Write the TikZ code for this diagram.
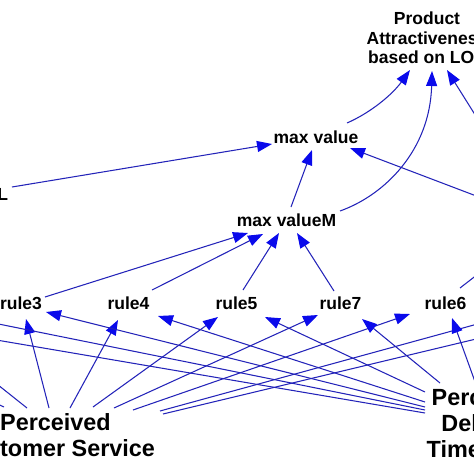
\documentclass[tikz,border=0pt]{standalone}
\usepackage{fontspec}
\setmainfont{Liberation Sans}
\usetikzlibrary{arrows.meta}
\definecolor{lineblue}{RGB}{35,35,185}
\definecolor{tipblue}{RGB}{10,10,235}
\tikzset{
  conn/.style={draw=lineblue, line width=1.05pt},
  arr/.style={conn, -{Triangle[length=15pt,width=11pt,color=tipblue]}},
  lbl/.style={inner sep=0pt, font=\bfseries\fontsize{17.5}{19.5}\selectfont},
  big/.style={inner sep=0pt, align=center, font=\bfseries\fontsize{23.4}{26}\selectfont},
}
\begin{document}
\begin{tikzpicture}[x=1pt,y=-1pt]
\useasboundingbox (0,0) rectangle (474,474);
\clip (0,0) rectangle (474,474);
\fill[white] (0,0) rectangle (474,474);

% nodes
\node[lbl, align=center] (pa) at (427,38) {Product\\Attractiveness\\based on LOS};
\node[lbl, anchor=base] (mv) at (316,143) {max value};
\node[lbl, anchor=base] (mvm) at (286.5,226.5) {max valueM};
\node[lbl, anchor=base west] (lnode) at (-2.8,200) {L};
\node[lbl, anchor=base] (r3) at (21,309.5) {rule3};
\node[lbl, anchor=base] (r4) at (128.5,309.5) {rule4};
\node[lbl, anchor=base] (r5) at (236.5,309.5) {rule5};
\node[lbl, anchor=base] (r7) at (340.5,309.5) {rule7};
\node[lbl, anchor=base] (r6) at (445.5,309.5) {rule6};
\node[big] (pcs) at (55.5,435.5) {Perceived\\Customer Service};
\node[big] (pdt) at (487,423.5) {Perceived\\Delivery\\Timeliness};

% off-canvas ends
\coordinate (r1b) at (-190,318);
\coordinate (r1r) at (-168,312);
\coordinate (r2b) at (-86,318);
\coordinate (r2r) at (-61,312);
\coordinate (r8l) at (514,314);
\coordinate (r9l) at (618,305);
\coordinate (lowR) at (500,257);
\coordinate (srcD) at (494,145);
\coordinate (srcE) at (500,205);

% PCS ports
\coordinate (pcs1) at (4,407);
\coordinate (pcs2) at (27,408);
\coordinate (pcs3) at (49,408);
\coordinate (pcs4) at (70,408);
\coordinate (pcs5) at (93,407);
\coordinate (pcs6) at (114,408);
\coordinate (pcs7) at (133,410);
\coordinate (pcs8) at (160,411);
\coordinate (pcs9) at (163,414);
% PDT ports
\coordinate (pdt5) at (425,392);
\coordinate (pdt4) at (425,402);
\coordinate (pdt3) at (425,407);
\coordinate (pdt2) at (425,410);
\coordinate (pdt1) at (425,413);
\coordinate (pdt7) at (440,383);
\coordinate (pdt6) at (478,390);
% rule ports
\coordinate (r3b) at (26,319);
\coordinate (r3r) at (46,312);
\coordinate (r4b) at (118,320);
\coordinate (r4r) at (158,316);
\coordinate (r5b) at (218,317);
\coordinate (r5r) at (265,317);
\coordinate (r7l) at (318,315);
\coordinate (r7r) at (362,319);
\coordinate (r6l) at (410,314);
\coordinate (r6b) at (452,318);
\coordinate (r3o) at (45,297);
\coordinate (r4o) at (152,290);
\coordinate (r5o) at (243,290);
\coordinate (r7o) at (334,291);
\coordinate (r6o) at (460,288);
% max valueM ports
\coordinate (m3) at (248,233);
\coordinate (m4) at (263,234);
\coordinate (m5) at (279,233);
\coordinate (m7) at (297,233);
\coordinate (mo1) at (291,207);
\coordinate (mo2) at (340,211);
% max value ports
\coordinate (mvb) at (312,150);
\coordinate (mvl) at (272,144);
\coordinate (mvr) at (350,148);
\coordinate (mvo) at (347,123);
\coordinate (lo) at (12,187);
% PA ports
\coordinate (pa1) at (410,70);
\coordinate (pa2) at (432,71);
\coordinate (pa3) at (447,70);

% PCS connectors
\draw[arr] (pcs1) -- (r1b);
\draw[arr] (pcs2) -- (r2b);
\draw[arr] (pcs3) -- (r3b);
\draw[arr] (pcs4) -- (r4b);
\draw[arr] (pcs5) -- (r5b);
\draw[arr] (pcs6) -- (r7l);
\draw[arr] (pcs7) -- (r6l);
\draw[arr] (pcs8) -- (r8l);
\draw[arr] (pcs9) -- (r9l);
% PDT connectors
\draw[arr] (pdt1) -- (r1r);
\draw[arr] (pdt2) -- (r2r);
\draw[arr] (pdt3) -- (r3r);
\draw[arr] (pdt4) -- (r4r);
\draw[arr] (pdt5) -- (r5r);
\draw[arr] (pdt7) -- (r7r);
\draw[arr] (pdt6) -- (r6b);
% rules to max valueM
\draw[arr] (r3o) -- (m3);
\draw[arr] (r4o) -- (m4);
\draw[arr] (r5o) -- (m5);
\draw[arr] (r7o) -- (m7);
\draw[arr] (r6o) -- (lowR);
% upper part
\draw[arr] (mo1) -- (mvb);
\draw[arr] (lo) -- (mvl);
\draw[arr] (srcE) -- (mvr);
\draw[arr] (mvo) .. controls (370,113) and (392,95) .. (pa1);
\draw[arr] (mo2) .. controls (385,195) and (430,150) .. (pa2);
\draw[arr] (srcD) -- (pa3);
\end{tikzpicture}
\end{document}
